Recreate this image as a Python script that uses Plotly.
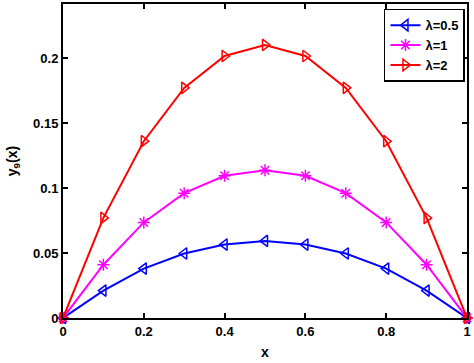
import plotly.graph_objects as go

x = [0, 0.1, 0.2, 0.3, 0.4, 0.5, 0.6, 0.7, 0.8, 0.9, 1.0]
y_lam05 = [0, 0.0211, 0.0380, 0.0496, 0.0565, 0.0593, 0.0565, 0.0496, 0.0380, 0.0211, 0]
y_lam1 = [0, 0.0410, 0.0735, 0.0960, 0.1094, 0.1137, 0.1094, 0.0960, 0.0735, 0.0410, 0]
y_lam2 = [0, 0.0770, 0.1360, 0.1770, 0.2015, 0.2100, 0.2015, 0.1770, 0.1360, 0.0770, 0]
names = ["λ=0.5", "λ=1", "λ=2"]
colors = ["#0000FF", "#FF00FF", "#FF0000"]
symbols = ["triangle-left-open", "asterisk-open", "triangle-right-open"]
x_ticks = [0, 0.2, 0.4, 0.6, 0.8, 1]
x_ticklabels = ["0", "0.2", "0.4", "0.6", "0.8", "1"]
y_ticks = [0, 0.05, 0.1, 0.15, 0.2]
y_ticklabels = ["0", "0.05", "0.1", "0.15", "0.2"]

fig = go.Figure()
for ys, n, c, s in zip([y_lam05, y_lam1, y_lam2], names, colors, symbols):
    fig.add_trace(go.Scatter(
        x=x, y=ys, name=n, mode="lines+markers",
        line=dict(color=c, width=2),
        marker=dict(symbol=s, size=10, color=c, line=dict(color=c, width=1.5)),
        cliponaxis=False,
    ))

font = dict(family="Liberation Sans, Arial, sans-serif", size=13, color="black")
axis_common = dict(
    showline=True, linecolor="black", linewidth=2, mirror="ticks",
    ticks="inside", ticklen=5, tickwidth=2, tickcolor="black",
    showgrid=False, zeroline=False,
    tickfont=dict(family="Liberation Sans, Arial, sans-serif", size=13, color="black"),
)
fig.update_layout(
    width=474, height=363,
    margin=dict(l=63, r=7, t=2, b=45),
    paper_bgcolor="white", plot_bgcolor="white",
    font=font,
    showlegend=True,
    legend=dict(
        x=0.995, y=0.985, xanchor="right", yanchor="top",
        bordercolor="black", borderwidth=1.5, bgcolor="white",
        font=dict(family="Liberation Sans, Arial, sans-serif", size=13, color="black", weight="bold"),
        tracegroupgap=0,
    ),
    xaxis=dict(
        range=[0, 1], tickvals=x_ticks, ticktext=["<b>%s</b>" % t for t in x_ticklabels],
        title=dict(text="<b>x</b>", standoff=10, font=dict(size=14)),
        **axis_common,
    ),
    yaxis=dict(
        range=[0, 0.2415], tickvals=y_ticks, ticktext=["<b>%s</b>" % t for t in y_ticklabels],
        title=dict(text="<b>y<sub>9</sub>(x)</b>", standoff=12, font=dict(size=14)),
        **axis_common,
    ),
)
fig.write_html("out.html", config={"displayModeBar": False},
               post_script="document.body.style.margin='0';document.body.style.overflow='hidden';")
